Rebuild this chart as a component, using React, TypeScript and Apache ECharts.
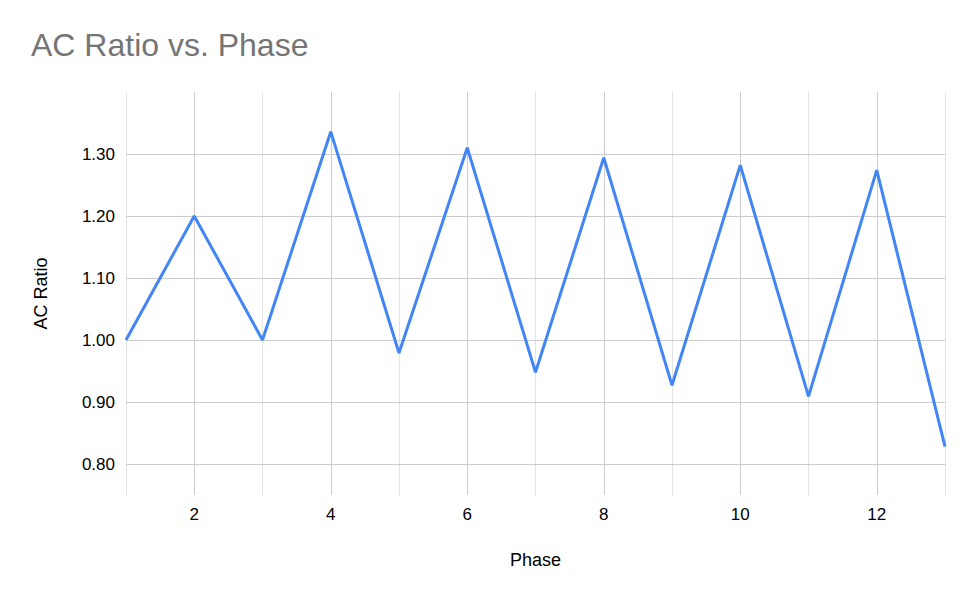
import React, { useEffect, useRef } from "react";
import * as echarts from "echarts";

const phases = [1, 2, 3, 4, 5, 6, 7, 8, 9, 10, 11, 12, 13];
const acRatio = [1.0, 1.2, 1.0, 1.336, 0.979, 1.31, 0.948, 1.294, 0.927, 1.282, 0.909, 1.274, 0.828];
const yTicks = [0.8, 0.9, 1.0, 1.1, 1.2, 1.3];
const xTickLabels = [2, 4, 6, 8, 10, 12];

const FONT = "'Liberation Sans', Arial, Helvetica, sans-serif";

export default function App() {
  const ref = useRef<HTMLDivElement>(null);
  useEffect(() => {
    if (!ref.current) return;
    const chart = echarts.init(ref.current, undefined, { renderer: "svg" });
    chart.setOption({
      animation: false,
      backgroundColor: "#ffffff",
      title: {
        text: "AC Ratio vs. Phase",
        left: 18,
        top: 16,
        textStyle: { fontFamily: FONT, fontSize: 32, fontWeight: "normal", color: "#757575" },
      },
      grid: { left: 118, right: 21, top: 84, bottom: 99, containLabel: false },
      xAxis: {
        type: "value",
        min: 1,
        max: 13,
        interval: 1,
        name: "Phase",
        nameLocation: "middle",
        nameGap: 56,
        nameTextStyle: { fontFamily: FONT, fontSize: 18, color: "#000" },
        axisLine: { show: false },
        axisTick: { show: false },
        axisLabel: {
          fontFamily: FONT,
          fontSize: 17,
          color: "#000",
          margin: 11,
          formatter: (v: number) => (xTickLabels.includes(v) ? String(v) : ""),
        },
        splitLine: { show: true, lineStyle: { color: ["#e3e3e3", "#cccccc"], width: 1 } },
      },
      yAxis: {
        type: "value",
        min: 0.75,
        max: 1.4,
        interval: 0.05,
        name: "AC Ratio",
        nameLocation: "middle",
        nameGap: 76,
        nameTextStyle: { fontFamily: FONT, fontSize: 18, color: "#000" },
        axisLine: { show: false },
        axisTick: { show: false },
        axisLabel: {
          fontFamily: FONT,
          fontSize: 17,
          color: "#000",
          margin: 11,
          formatter: (v: number) =>
            yTicks.some((t) => Math.abs(t - v) < 1e-6) ? v.toFixed(2) : "",
        },
        splitLine: { show: false },
      },
      series: [
        {
          type: "line",
          data: phases.map((p, i) => [p, acRatio[i]]),
          symbol: "none",
          lineStyle: { color: "#4285f4", width: 3 },
          markLine: {
            silent: true,
            symbol: "none",
            label: { show: false },
            lineStyle: { color: "#cccccc", width: 1, type: "solid" },
            z: 1,
            data: yTicks.map((t) => ({ yAxis: t })),
          },
          z: 3,
        },
      ],
    });
    return () => chart.dispose();
  }, []);
  return <div ref={ref} style={{ width: 958, height: 586 }} />;
}
